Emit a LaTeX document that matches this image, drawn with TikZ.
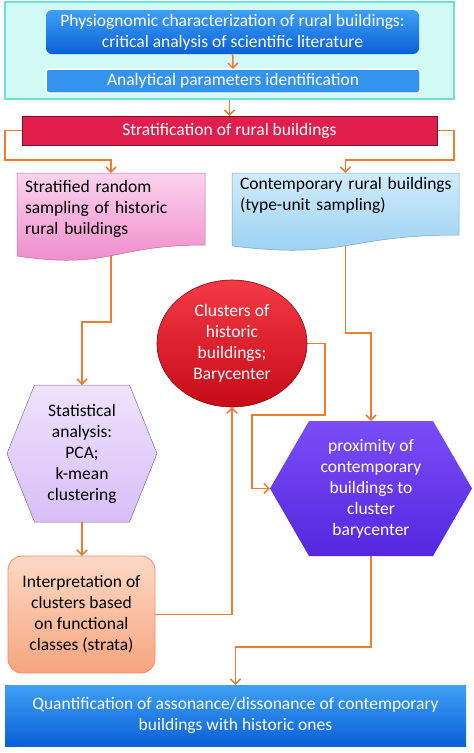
\documentclass[tikz,border=0pt]{standalone}
\usepackage{fontspec}
\setmainfont{Carlito}
\usetikzlibrary{shapes.geometric,arrows.meta}

\definecolor{linkorange}{HTML}{ED7D31}
\definecolor{outerfill}{HTML}{D2FAF4}
\definecolor{outerdraw}{HTML}{6FE3CF}
\definecolor{bluetop}{HTML}{3FA0F5}
\definecolor{bluebot}{HTML}{0A60D8}
\definecolor{stratred}{HTML}{E21E4C}
\definecolor{pinktop}{HTML}{FBD3EE}
\definecolor{pinkbot}{HTML}{EE86C8}
\definecolor{skytop}{HTML}{D0ECFB}
\definecolor{skybot}{HTML}{96CFF0}
\definecolor{redtop}{HTML}{F23A44}
\definecolor{redbot}{HTML}{C70A18}
\definecolor{lilactop}{HTML}{F0E2FC}
\definecolor{lilacbot}{HTML}{D8BEF6}
\definecolor{violettop}{HTML}{7B4DF6}
\definecolor{violetbot}{HTML}{5427E0}
\definecolor{salmontop}{HTML}{FDD9C5}
\definecolor{salmonbot}{HTML}{F6A57E}

\pgfdeclarelayer{back}
\pgfdeclarelayer{fills}
\pgfsetlayers{back,fills,main}

% document shape under a named node
\newcommand{\docfill}[4]{%
  \begin{pgfonlayer}{fills}
    \draw[#4, top color=#2, bottom color=#3] (#1.north west) -- (#1.north east) -- (#1.south east)
      .. controls (#1.south) and ([yshift=-25pt]#1.south) .. ([yshift=-11pt]#1.south west) -- cycle;
  \end{pgfonlayer}}
% hexagon under a named node
\newcommand{\hexfill}[5]{%
  \begin{pgfonlayer}{fills}
    \draw[#5, top color=#3, bottom color=#4] (#1.west) -- ([xshift=#2]#1.north west)
      -- ([xshift=-#2]#1.north east) -- (#1.east) -- ([xshift=-#2]#1.south east)
      -- ([xshift=#2]#1.south west) -- cycle;
  \end{pgfonlayer}}

\begin{document}
\begin{tikzpicture}[x=1pt, y=-1pt,
    box/.style={rectangle, inner sep=0pt, outer sep=0pt, align=center,
      font=\fontsize{17.5}{21}\selectfont},
    bluebox/.style={box, text=white, top color=bluetop, bottom color=bluebot},
    docbox/.style={box, anchor=north west, align=left, inner xsep=8pt},
    hexbox/.style={box},
    link/.style={draw=linkorange, line width=1.5pt, -{Straight Barb[length=5pt,width=10pt]}}
]
\useasboundingbox (0,0) rectangle (474,753);

\node[box, fill=outerfill, draw=outerdraw, line width=1.2pt, minimum width=449pt, minimum height=97pt] (outer) at (229.5,50.5) {};
\node[bluebox, rounded corners=6pt, minimum width=373pt, minimum height=44pt] (physio) at (232.5,32)
  {Physiognomic characterization of rural buildings:\\critical analysis of scientific literature};
\node[box, text=white, fill=bluetop!80!bluebot, draw=white, line width=1.5pt, rounded corners=3pt,
  minimum width=374pt, minimum height=24pt] (params) at (233,81) {Analytical parameters identification};
\draw[link] (physio) -- (params);

\node[box, text=white, fill=stratred, draw=stratred!55!black, line width=0.8pt, minimum width=415pt, minimum height=29pt]
  (strat) at (229.5,130.5) {Stratification of rural buildings};

\node[docbox, text width=172pt, minimum height=72pt] (historic) at (17,173)
  {Stratified random\\sampling of historic\\rural buildings};
\docfill{historic}{pinktop}{pinkbot}{draw=pinkbot!80!black, line width=0.5pt}
\node[docbox, text width=211pt, minimum height=62pt] (contemp) at (232,173)
  {\mbox{Contemporary rural buildings}\\(type-unit sampling)\\\mbox{}};
\docfill{contemp}{skytop}{skybot}{draw=skybot!80!black, line width=0.5pt}

\node[box, ellipse, text=white, top color=redtop, bottom color=redbot, draw=redbot!70!black, line width=0.6pt,
  minimum width=150pt, minimum height=127pt] (clusters) at (232,343.5)
  {Clusters of\\historic\\buildings;\\Barycenter};

\node[hexbox, minimum width=150pt, minimum height=137pt] (stats) at (82,453.5)
  {Statistical\\analysis:\\PCA;\\k-mean\\clustering};
\hexfill{stats}{27.5pt}{lilactop}{lilacbot}{draw=lilacbot!60!black, line width=0.5pt}
\node[hexbox, text=white, minimum width=202pt, minimum height=135pt] (proximity) at (371,488.5)
  {proximity of\\contemporary\\buildings to\\cluster\\barycenter};
\hexfill{proximity}{39pt}{violettop}{violetbot}{draw=none}

\node[box, rounded corners=14pt, top color=salmontop, bottom color=salmonbot, draw=salmonbot!85!red, line width=0.8pt,
  minimum width=147pt, minimum height=117pt] (interp) at (81.5,614.5)
  {Interpretation of\\clusters based\\on functional\\classes (strata)};

\node[bluebox, minimum width=461pt, minimum height=61pt] (quant) at (235.5,715.5)
  {Quantification of assonance/dissonance of contemporary\\buildings with historic ones};

\begin{pgfonlayer}{back}
\draw[link] (outer) -- (strat);
\draw[link] (strat.west) -| (5,160) -| (historic.north);
\draw[link] (strat.east) -| (454,160) -| (contemp.north);
\draw[link] (historic.south) |- (82,322) -- (stats.north);
\draw[link] (contemp.south) |- (371,333) -- (proximity.north);
\draw[link] (clusters.east) -| (325,415) -| (252,488.5) -- (proximity.west);
\draw[link] (stats.south) -- (stats.south |- interp.north);
\draw[link] (interp.east) -| (clusters.south);
\draw[link] (proximity.south) -- ++(0,91) -| (quant.north);
\end{pgfonlayer}

\end{tikzpicture}
\end{document}
